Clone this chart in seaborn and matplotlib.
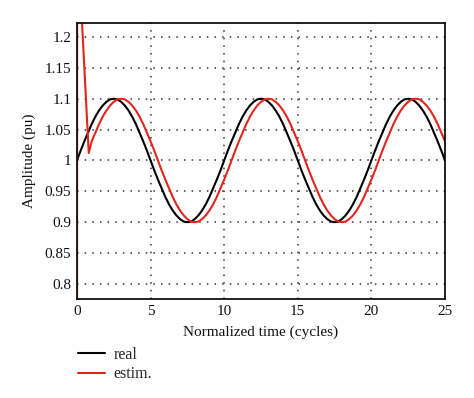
import numpy as np
import pandas as pd
import seaborn as sns
import matplotlib
matplotlib.use("Agg")
import matplotlib.pyplot as plt

# values (step 0.25 cycle)
real_t = np.arange(0.0, 25.001, 0.25)
real_v = [1.000, 1.016, 1.031, 1.045, 1.059, 1.071, 1.081, 1.089, 1.095, 1.099,
          1.100, 1.099, 1.095, 1.089, 1.081, 1.071, 1.059, 1.045, 1.031, 1.016,
          1.000, 0.984, 0.969, 0.955, 0.941, 0.929, 0.919, 0.911, 0.905, 0.901,
          0.900, 0.901, 0.905, 0.911, 0.919, 0.929, 0.941, 0.955, 0.969, 0.984,
          1.000, 1.016, 1.031, 1.045, 1.059, 1.071, 1.081, 1.089, 1.095, 1.099,
          1.100, 1.099, 1.095, 1.089, 1.081, 1.071, 1.059, 1.045, 1.031, 1.016,
          1.000, 0.984, 0.969, 0.955, 0.941, 0.929, 0.919, 0.911, 0.905, 0.901,
          0.900, 0.901, 0.905, 0.911, 0.919, 0.929, 0.941, 0.955, 0.969, 0.984,
          1.000, 1.016, 1.031, 1.045, 1.059, 1.071, 1.081, 1.089, 1.095, 1.099,
          1.100, 1.099, 1.095, 1.089, 1.081, 1.071, 1.059, 1.045, 1.031, 1.016,
          1.000]

# estimator: start-up transient, then lagging about half a cycle
est_t = [0.0, 0.01, 0.35, 0.8] + list(np.arange(1.0, 25.001, 0.25))
est_v = [0.0, 1.36, 1.22, 1.012,
         1.031, 1.045, 1.059, 1.071, 1.081, 1.089, 1.095, 1.099,
         1.100, 1.099, 1.095, 1.089, 1.081, 1.071, 1.059, 1.045, 1.031, 1.016,
         1.000, 0.984, 0.969, 0.955, 0.941, 0.929, 0.919, 0.911, 0.905, 0.901,
         0.900, 0.901, 0.905, 0.911, 0.919, 0.929, 0.941, 0.955, 0.969, 0.984,
         1.000, 1.016, 1.031, 1.045, 1.059, 1.071, 1.081, 1.089, 1.095, 1.099,
         1.100, 1.099, 1.095, 1.089, 1.081, 1.071, 1.059, 1.045, 1.031, 1.016,
         1.000, 0.984, 0.969, 0.955, 0.941, 0.929, 0.919, 0.911, 0.905, 0.901,
         0.900, 0.901, 0.905, 0.911, 0.919, 0.929, 0.941, 0.955, 0.969, 0.984,
         1.000, 1.016, 1.031, 1.045, 1.059, 1.071, 1.081, 1.089, 1.095, 1.099,
         1.100, 1.099, 1.095, 1.089, 1.081, 1.071, 1.059, 1.045, 1.031]

labels = ["real", "estim."]
colors = ["#000000", "#e3261c"]

df = pd.concat([
    pd.DataFrame({"t": real_t, "v": real_v, "s": labels[0]}),
    pd.DataFrame({"t": est_t, "v": est_v, "s": labels[1]}),
])

sns.set_style("white")
plt.rcParams["font.family"] = ["Liberation Serif", "DejaVu Serif"]

fig = plt.figure(figsize=(4.74, 3.98), dpi=100)
ax = fig.add_axes([0.1624, 0.2487, 0.7764, 0.6935])

sns.lineplot(data=df, x="t", y="v", hue="s", palette=colors, estimator=None,
             sort=False, linewidth=1.5, ax=ax)

ax.set_xlim(0, 25)
ax.set_ylim(0.7755, 1.2227)
ax.set_xticks([0, 5, 10, 15, 20, 25])
ax.set_yticks([0.8, 0.85, 0.9, 0.95, 1.0, 1.05, 1.1, 1.15, 1.2])
ax.set_yticklabels(["0.8", "0.85", "0.9", "0.95", "1", "1.05", "1.1", "1.15", "1.2"])
ax.tick_params(length=0, labelsize=11, colors="#111111", pad=4)
ax.grid(True, color="#333333", linestyle=(0, (1, 4)), linewidth=1.1)
for sp in ax.spines.values():
    sp.set_color("#111111")
    sp.set_linewidth(1.3)

ax.set_xlabel("Normalized time (cycles)", fontsize=11, color="#111111", labelpad=6)
ax.set_ylabel("Amplitude (pu)", fontsize=11, color="#111111", labelpad=6)

ax.legend_.remove()
handles = ax.get_lines()[:2]
fig.legend(handles, labels, loc="upper left", bbox_to_anchor=(0.165, 0.128),
           frameon=False, fontsize=11.5, handlelength=1.7, handletextpad=0.5,
           labelspacing=0.2, borderpad=0, borderaxespad=0)

fig.savefig("out.png", dpi=100)
